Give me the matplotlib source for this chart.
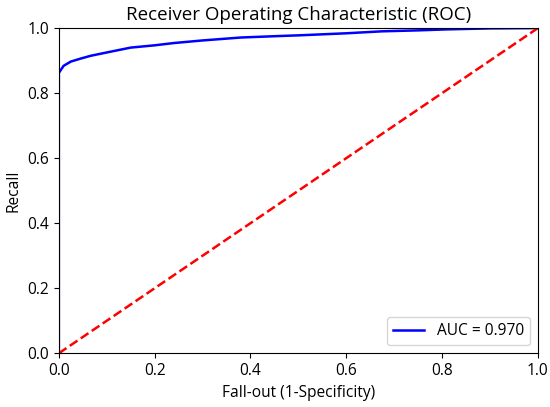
import matplotlib.pyplot as plt

plt.rcParams['font.family'] = ['Open Sans', 'DejaVu Sans']

fpr = [0, 0, 0.004, 0.01, 0.025, 0.045, 0.067, 0.1, 0.15, 0.2, 0.24, 0.3,
       0.38, 0.45, 0.506, 0.6, 0.674, 0.75, 0.81, 0.9, 1.0]
tpr = [0, 0.862, 0.871, 0.884, 0.897, 0.906, 0.915, 0.925, 0.94, 0.947, 0.954,
       0.962, 0.971, 0.975, 0.978, 0.984, 0.99, 0.993, 0.996, 0.999, 1.0]
auc = 0.970

fig = plt.figure(figsize=(5.5, 4.07), dpi=100)
ax = fig.add_axes([0.107, 0.132, 0.871, 0.799])
ax.plot(fpr, tpr, color='blue', lw=1.8, label=f'AUC = {auc:.3f}')
ax.plot([0, 1], [0, 1], color='red', ls='--', lw=1.8)
ax.set_xlim(0, 1)
ax.set_ylim(0, 1)
ax.set_title('Receiver Operating Characteristic (ROC)', fontsize=13.5)
ax.set_xlabel('Fall-out (1-Specificity)', fontsize=11.2)
ax.set_ylabel('Recall', fontsize=11.2)
ax.tick_params(labelsize=11.2)
ax.legend(loc='lower right', fontsize=11.2)
fig.savefig('out.png')
